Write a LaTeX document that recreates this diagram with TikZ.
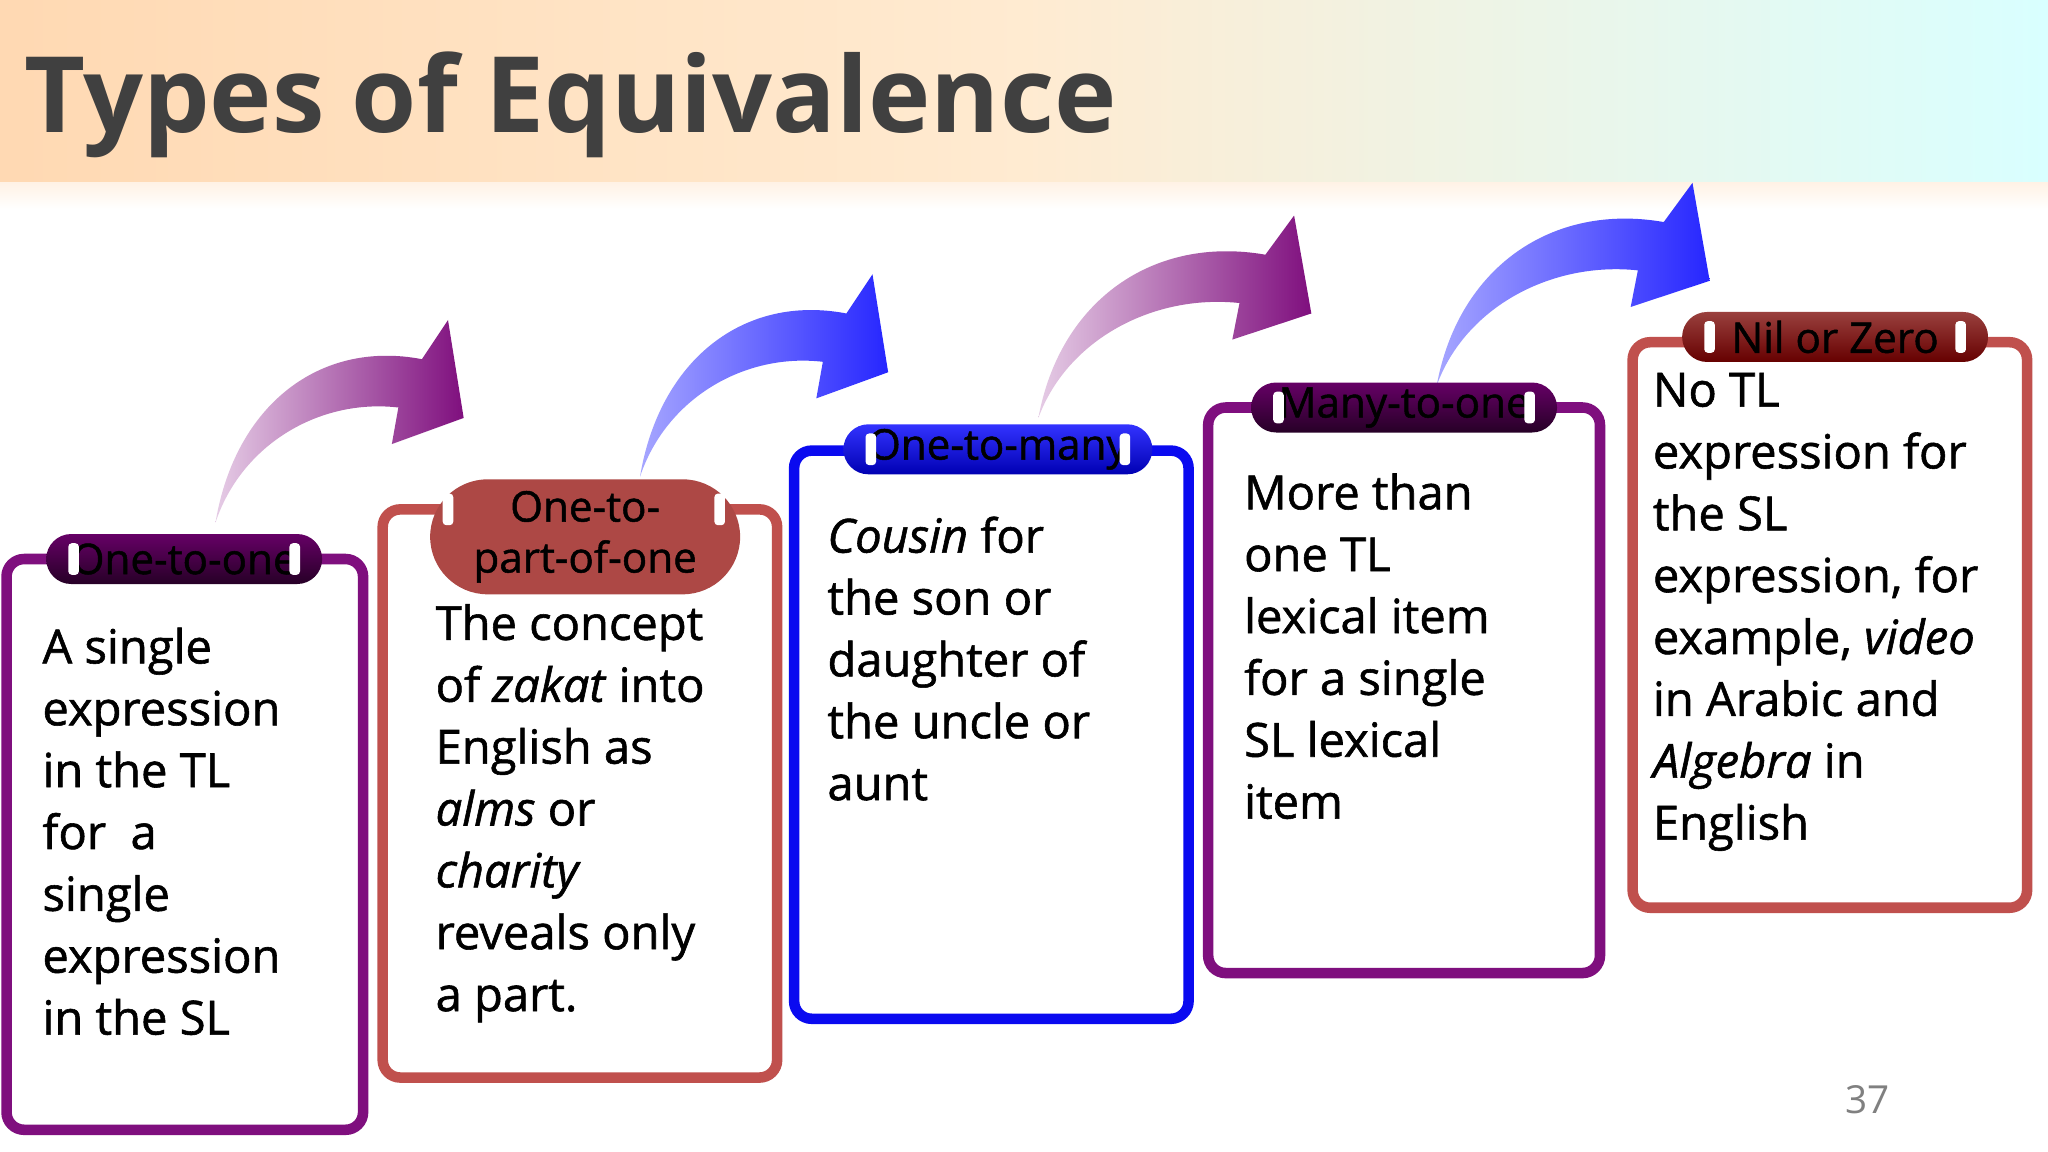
\documentclass[tikz,border=0pt]{standalone}
\usepackage{fontspec}
\setmainfont{Open Sans}[FakeBold=1.2]
\newfontfamily\titlef{Open Sans}
\usetikzlibrary{shapes.misc}
\definecolor{cpur}{HTML}{7F0F7E}
\definecolor{cred}{HTML}{C0504D}
\definecolor{cblu}{HTML}{0A0AF0}
\tikzset{
 card/.style={draw=#1,line width=3pt,rounded corners=5pt,fill=white},
 txt/.style={anchor=north west,align=left,font=\fontsize{13.4}{17.6}\selectfont,inner sep=0pt},
 tab/.style={rounded rectangle,minimum height=0.5cm,inner sep=1pt,font=\fontsize{12}{14.5}\selectfont,text=black},
 pill/.style={fill=white,rounded corners=1pt,minimum width=3pt,minimum height=9pt,inner sep=0pt},
}
\newcommand{\myarrow}[5]{% shift x, shift y, xscale, left color, right color
 \begin{scope}[shift={(#1,#2)},xscale=#3]
 \shade[left color=#4,right color=#5] (0,0) .. controls (20,-60) and (80,-95) .. (140,-88) -- (135,-60) -- (190,-80) -- (178,-155) -- (158,-125) .. controls (80,-140) and (15,-90) .. (0,0) -- cycle;
 \end{scope}}
\begin{document}
\begin{tikzpicture}[x=0.013061cm,y=-0.013061cm]
\useasboundingbox (0,0) rectangle (1568,882);
\fill[white] (0,0) rectangle (1568,882);
\shade[left color=orange!30!white,right color=cyan!15!white,middle color=yellow!12!orange!18!white] (0,0) rectangle (1568,150);
\shade[top color=orange!10!white,bottom color=white] (0,140) rectangle (1568,160);
\node[anchor=west,font=\titlef\bfseries\fontsize{30}{36}\selectfont,text=black!75,inner sep=0pt] (title) at (18,80) {Types of Equivalence};
% arrows
\myarrow{165}{400}{1}{violet!20!white}{cpur}
\myarrow{490}{365}{1}{blue!35!white}{blue!85!white}
\myarrow{795}{320}{1.1}{violet!20!white}{cpur}
\myarrow{1100}{295}{1.1}{blue!35!white}{blue!85!white}
% cards
\draw[card=cpur] (5,428) rectangle (278,865);
\draw[card=cred] (293,390) rectangle (595,825);
\draw[card=cblu] (608,345) rectangle (910,780);
\draw[card=cpur] (925,312) rectangle (1225,745);
\draw[card=cred] (1250,262) rectangle (1552,695);
% tabs
\node[tab,top color=violet!80!black,bottom color=black!70!violet,minimum width=2.83cm] (t1) at (141,428) {One-to-one};
\node[tab,fill=cred!90!black,minimum width=3.17cm,minimum height=1.15cm,align=center] (t2) at (448,411) {One-to-\\part-of-one};
\node[tab,top color=blue!80!white,bottom color=blue!70!black,minimum width=3.16cm] (t3) at (764,344) {One-to-many};
\node[tab,top color=violet!80!black,bottom color=black!70!violet,minimum width=3.13cm] (t4) at (1075,312) {Many-to-one};
\node[tab,top color=cred!80!black,bottom color=black!60!red,minimum width=3.13cm] (t5) at (1405,258) {Nil or Zero};
\foreach \t in {t1,t3,t4,t5}{
 \node[pill] at ([xshift=8pt]\t.west) {};
 \node[pill] at ([xshift=-8pt]\t.east) {};}
\node[pill] at (343,390) {};\node[pill] at (551,390) {};
% texts
\node[txt] (x1) at (32,480) {A single\\expression\\in the TL\\for~~a\\single\\expression\\in the SL};
\node[txt] (x2) at (333,462) {The concept\\of \textit{zakat} into\\English as\\\textit{alms} or\\\textit{charity}\\reveals only\\a part.};
\node[txt] (x3) at (633,395) {\textit{Cousin} for\\the son or\\daughter of\\the uncle or\\aunt};
\node[txt] (x4) at (952,362) {More than\\one TL\\lexical item\\for a single\\SL lexical\\item};
\node[txt] (x5) at (1265,285) {No TL\\expression for\\the SL\\expression, for\\example, \textit{video}\\in Arabic and\\\textit{Algebra} in\\English};
\node[text=black!50,font=\titlef\fontsize{11}{13}\selectfont] (pg) at (1430,842) {37};
\end{tikzpicture}
\end{document}
